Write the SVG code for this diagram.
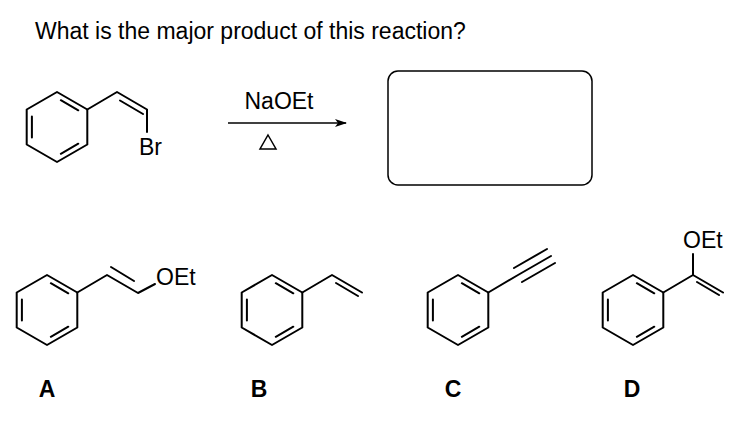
<svg xmlns="http://www.w3.org/2000/svg" width="746" height="430" viewBox="0 0 746 430">
<style>
.b{fill:none;stroke:#000;stroke-width:2;stroke-linecap:round;stroke-linejoin:round}
.t{font-family:"Liberation Sans",Arial,sans-serif;font-size:23px;fill:#000}
.l{font-family:"Liberation Sans",Arial,sans-serif;font-size:23px;font-weight:bold;fill:#000;text-anchor:middle}
</style>
<defs>
<g id="bz" class="b">
<path d="M0,-35 L30.3,-17.5 L30.3,17.5 L0,35 L-30.3,17.5 L-30.3,-17.5Z"/>
<path d="M3.8,-26.8 L21.3,-16.7 M-25.1,-10.5 L-25.1,10.5 M21.3,16.7 L3.8,26.8"/>
</g>
<marker id="ah" markerWidth="12" markerHeight="8" refX="11" refY="4" orient="auto" markerUnits="userSpaceOnUse"><path d="M0,0 L12,4 L0,8 L3,4Z" fill="#000"/></marker>
</defs>
<rect width="746" height="430" fill="#fff"/>
<text class="t" x="35" y="39">What is the major product of this reaction?</text>
<g id="reactant">
<use href="#bz" x="57" y="127"/>
<path class="b" d="M87.3,109.5 L117,92 L147,109.5 L147,132 M120,100.5 L143,114"/>
<text class="t" x="139" y="155">Br</text>
</g>
<g id="connectors">
<line x1="228" y1="123" x2="346" y2="123" stroke="#000" stroke-width="1.5" marker-end="url(#ah)"/>
</g>
<g id="conditions">
<text class="t" x="279" y="109" text-anchor="middle">NaOEt</text>
<path d="M268,135 L276,149 L260,149Z" fill="none" stroke="#000" stroke-width="1.5"/>
</g>
<g id="productbox"><rect x="388" y="71" width="204" height="114" rx="10" fill="none" stroke="#000" stroke-width="1.5"/></g>
<g id="A">
<use href="#bz" x="47" y="310"/>
<path class="b" d="M77.3,292.5 L107,275 L138,293 L155,284 M111,267 L134,281"/>
<text class="t" x="156" y="285">OEt</text>
<text class="l" x="47" y="397">A</text>
</g>
<g id="B">
<use href="#bz" x="272" y="310"/>
<path class="b" d="M302.3,292.5 L332,275 L362,292.5 M336,283 L358,296"/>
<text class="l" x="259" y="397">B</text>
</g>
<g id="C">
<use href="#bz" x="458" y="310"/>
<path class="b" d="M488.3,292.5 L518,275 L551,256 M514,268 L547,249 M522,282 L555,263"/>
<text class="l" x="453" y="397">C</text>
</g>
<g id="D">
<use href="#bz" x="633" y="310"/>
<path class="b" d="M663.3,292.5 L693,275 L723,292.5 M693,275 L693,254 M697,282 L719,295"/>
<text class="t" x="683" y="248">OEt</text>
<text class="l" x="632" y="397">D</text>
</g>
</svg>
